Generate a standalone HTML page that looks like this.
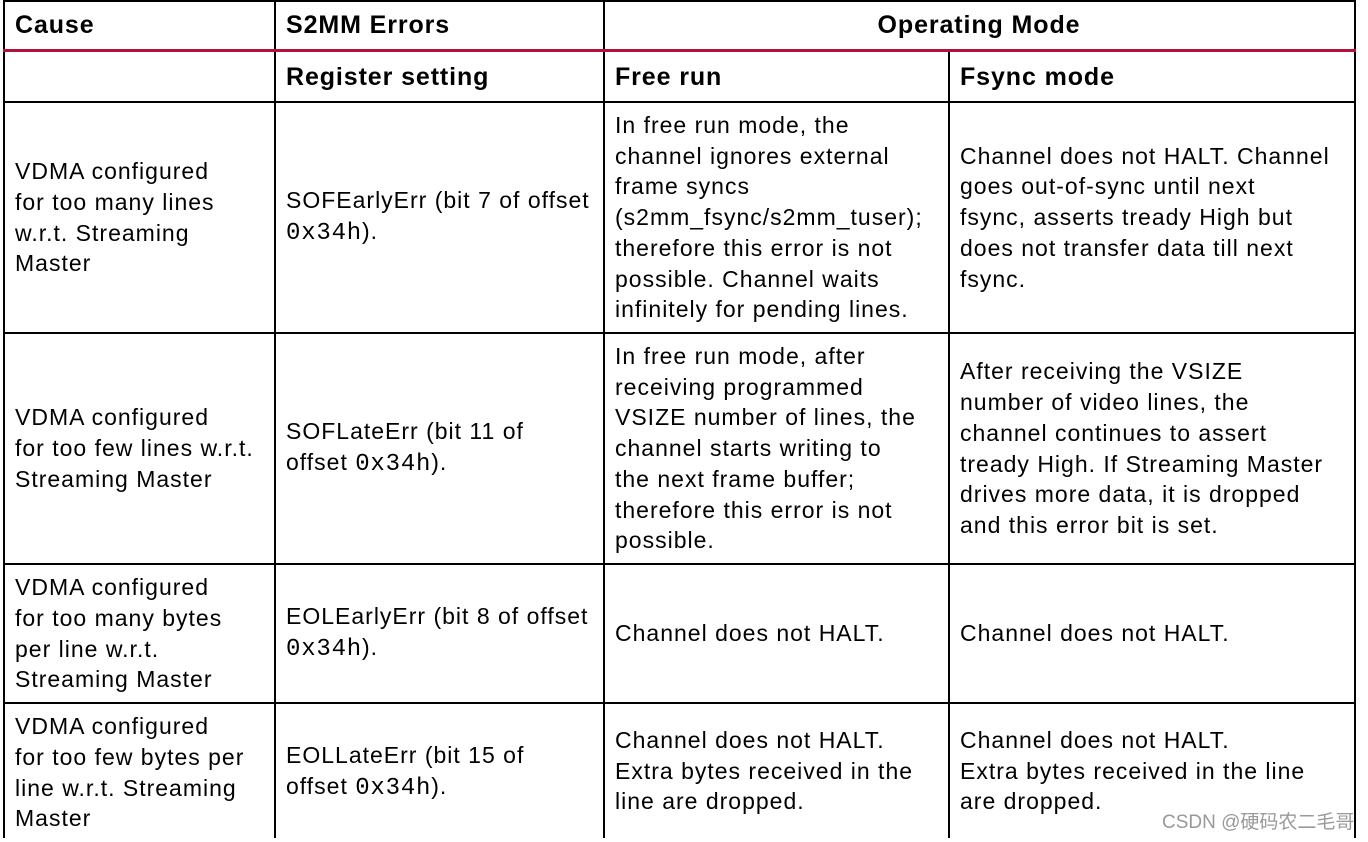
<!DOCTYPE html>
<html><head><style>
body{margin:0;width:1368px;height:838px;background:#fff;overflow:hidden;position:relative;font-family:"Liberation Sans",sans-serif;color:#000}
.v{position:absolute;background:#000;width:1.5px}
.h{position:absolute;background:#000;height:1.5px;left:3px;width:1353px}
.c{position:absolute;display:flex;align-items:center;font-size:23px;line-height:30.7px;white-space:nowrap;padding-left:12px;box-sizing:border-box;letter-spacing:1px}
.b{font-weight:bold;font-size:25px;letter-spacing:0.9px}
.m{font-family:"Liberation Mono",monospace;font-size:24px;letter-spacing:0.8px}
</style></head><body>
<div class="v" style="left:3px;top:0;height:838px"></div>
<div class="v" style="left:274px;top:0;height:838px"></div>
<div class="v" style="left:603px;top:0;height:838px"></div>
<div class="v" style="left:948px;top:51px;height:787px"></div>
<div class="v" style="left:1354px;top:0;height:838px"></div>
<div class="h" style="top:0"></div>
<div style="position:absolute;left:3px;top:49px;width:1353px;height:3px;background:#b0123a"></div>
<div class="h" style="top:101px"></div>
<div class="h" style="top:332px"></div>
<div class="h" style="top:563px"></div>
<div class="h" style="top:702px"></div>

<div class="c b" style="left:3px;top:0;width:271px;height:50px">Cause</div>
<div class="c b" style="left:274px;top:0;width:329px;height:50px">S2MM Errors</div>
<div class="c b" style="left:603px;top:0;width:752px;height:50px;justify-content:center;padding-left:0">Operating Mode</div>
<div class="c b" style="left:274px;top:52px;width:329px;height:50px">Register setting</div>
<div class="c b" style="left:603px;top:52px;width:345px;height:50px">Free run</div>
<div class="c b" style="left:948px;top:52px;width:406px;height:50px">Fsync mode</div>

<div class="c" style="left:3px;top:102px;width:271px;height:231px"><div>VDMA configured<br>for too many lines<br>w.r.t. Streaming<br>Master</div></div>
<div class="c" style="left:274px;top:102px;width:329px;height:231px"><div>SOFEarlyErr (bit 7 of offset<br><span class="m">0x34h</span>).</div></div>
<div class="c" style="left:603px;top:102px;width:345px;height:231px"><div>In free run mode, the<br>channel ignores external<br>frame syncs<br>(s2mm_fsync/s2mm_tuser);<br>therefore this error is not<br>possible. Channel waits<br>infinitely for pending lines.</div></div>
<div class="c" style="left:948px;top:102px;width:406px;height:231px"><div>Channel does not HALT. Channel<br>goes out-of-sync until next<br>fsync, asserts tready High but<br>does not transfer data till next<br>fsync.</div></div>

<div class="c" style="left:3px;top:333px;width:271px;height:231px"><div>VDMA configured<br>for too few lines w.r.t.<br>Streaming Master</div></div>
<div class="c" style="left:274px;top:333px;width:329px;height:231px"><div>SOFLateErr (bit 11 of<br>offset <span class="m">0x34h</span>).</div></div>
<div class="c" style="left:603px;top:333px;width:345px;height:231px"><div>In free run mode, after<br>receiving programmed<br>VSIZE number of lines, the<br>channel starts writing to<br>the next frame buffer;<br>therefore this error is not<br>possible.</div></div>
<div class="c" style="left:948px;top:333px;width:406px;height:231px"><div>After receiving the VSIZE<br>number of video lines, the<br>channel continues to assert<br>tready High. If Streaming Master<br>drives more data, it is dropped<br>and this error bit is set.</div></div>

<div class="c" style="left:3px;top:564px;width:271px;height:139px"><div>VDMA configured<br>for too many bytes<br>per line w.r.t.<br>Streaming Master</div></div>
<div class="c" style="left:274px;top:564px;width:329px;height:139px"><div>EOLEarlyErr (bit 8 of offset<br><span class="m">0x34h</span>).</div></div>
<div class="c" style="left:603px;top:564px;width:345px;height:139px"><div>Channel does not HALT.</div></div>
<div class="c" style="left:948px;top:564px;width:406px;height:139px"><div>Channel does not HALT.</div></div>

<div class="c" style="left:3px;top:703px;width:271px;height:139px"><div>VDMA configured<br>for too few bytes per<br>line w.r.t. Streaming<br>Master</div></div>
<div class="c" style="left:274px;top:703px;width:329px;height:139px"><div>EOLLateErr (bit 15 of<br>offset <span class="m">0x34h</span>).</div></div>
<div class="c" style="left:603px;top:703px;width:345px;height:139px;align-items:flex-start;padding-top:22px"><div>Channel does not HALT.<br>Extra bytes received in the<br>line are dropped.</div></div>
<div class="c" style="left:948px;top:703px;width:406px;height:139px;align-items:flex-start;padding-top:22px"><div>Channel does not HALT.<br>Extra bytes received in the line<br>are dropped.</div></div>

<div style="position:absolute;left:1162px;top:807px;font-size:19px;color:#999;font-family:'Liberation Sans','Noto Sans CJK SC',sans-serif">CSDN @硬码农二毛哥</div>
</body></html>
